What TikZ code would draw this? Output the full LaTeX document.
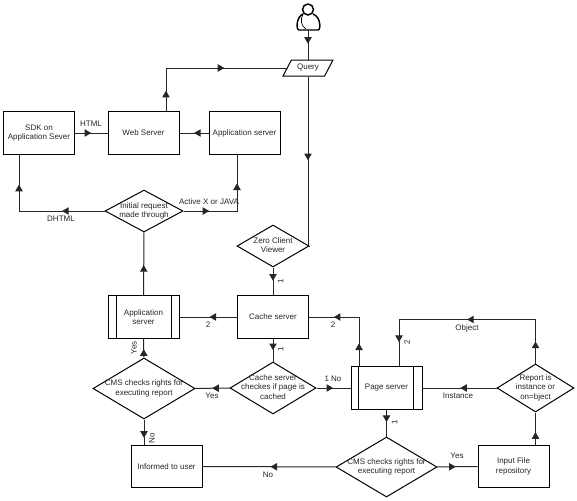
\documentclass[tikz,border=0pt]{standalone}
\usepackage{fontspec}
\setmainfont{Liberation Sans}
\usetikzlibrary{
  arrows.meta,
  shapes.geometric,
  decorations.markings
}
\newcommand{\inside}[1]{\smash{\makebox[0pt]{\raisebox{-1.5pt}{\begin{tabular}{@{}c@{}}#1\end{tabular}}}}}

\begin{document}
\begin{tikzpicture}[
  x=0.75pt,
  y=-0.75pt,
  font=\fontsize{6}{7}\selectfont,
  text=black!85,
  line width=0.75pt,
  block/.style={
    rectangle,
    draw=black,
    inner sep=0pt,
    minimum width=53.25pt,
    minimum height=32pt,
    align=center
  },
  query/.style={
    trapezium,
    trapezium stretches=true,
    trapezium left angle=53,
    trapezium right angle=127,
    draw=black,
    inner sep=0pt,
    minimum width=37.5pt,
    minimum height=12pt
  },
  decision/.style 2 args={
    diamond,
    draw=black,
    inner sep=0pt,
    minimum width=#1*0.75pt,
    minimum height=#2*0.75pt
  },
  link/.style={
    draw=black!85,
    postaction={decorate, decoration={markings,
      mark=at position #1 with {\arrow{Triangle[length=5pt,width=5.5pt]}}}}
  },
  tag/.style={inner sep=0pt},
  turned/.style={inner sep=0pt, rotate=90}
]
\useasboundingbox (0,0) rectangle (577,500);

% User
\coordinate (user) at (308,30);
\draw[line width=1.1pt] (308,9.5) circle[x radius=5.5, y radius=5.5];
\draw[line width=1.1pt, rounded corners=3pt] (303,14) .. controls (296,17) and (296,30) .. (303,30) -- (314,30) .. controls (321,30) and (321,17) .. (313,14);
\draw[line width=0.5pt] (303,14) .. controls (300,20) and (301,26) .. (306,29);

% Top row
\node[query] (qry) at (308,68) {Query};
\node[block] (sdk) at (39,133) {SDK on\\Application Sever};
\node[block] (web) at (143.5,133) {Web Server};
\node[block] (app) at (244.5,133) {Application server};

% Middle
\node[decision={78}{42}] (init) at (144,211) {\inside{Initial request\\made through}};
\node[decision={72}{42}] (zero) at (273,246) {\inside{Zero Client\\Viewer}};
\node[block] (appsrv) at (143.5,317) {Application\\server};
\node[block] (cache) at (273,317) {Cache server};
\node[block] (page) at (386.5,388) {Page server};
\node[decision={102}{61}] (cms) at (144,388.5) {\inside{CMS checks rights for\\executing report}};
\node[decision={86}{52}] (check) at (273,388) {\inside{Cache server\\checkes if page is\\cached}};
\node[decision={77}{48}] (kind) at (535.5,388) {\inside{Report is\\instance or\\on=bject}};

% Bottom row
\node[block] (told) at (166.5,466.5) {Informed to user};
\node[decision={101}{60}] (rights) at (386.5,467) {\inside{CMS checks rights for\\executing report}};
\node[block] (input) at (513.5,466.5) {Input File\\repository};

% Process bars
\draw ([xshift=6.75pt]appsrv.north west) -- ([xshift=6.75pt]appsrv.south west);
\draw ([xshift=-6pt]appsrv.north east) -- ([xshift=-6pt]appsrv.south east);
\draw ([xshift=6pt]page.north west) -- ([xshift=6pt]page.south west);
\draw ([xshift=-6.75pt]page.north east) -- ([xshift=-6.75pt]page.south east);

% Connectors
\draw[link=0.47] (user) -- (qry.north -| user);
\draw[link=0.125, link=0.62] (web.north -| 166,0) |- (qry.west);
\draw[link=0.5] (sdk) -- (web);
\draw[link=0.5] (app) -- (web);
\draw[link=0.30, link=0.79] (init.west) -| (sdk.south -| 19,0);
\draw[link=0.235, link=0.74] (init.east) -| (app.south -| 237,0);
\draw[link=0.49] (qry.south) |- (zero.east);
\draw[link=0.48] (zero) -- (cache);
\draw[link=0.48] (appsrv) -- (init);
\draw[link=0.48] (cache) -- (appsrv);
\draw[link=0.23, link=0.75] (page.north -| 359,0) |- (cache.east);
\draw[link=0.5] (cache) -- (check);
\draw[link=0.49] (check) -- (page);
\draw[link=0.51] (check) -- (cms);
\draw[link=0.45] (cms) -- (appsrv);
\draw[link=0.73] (cms) -- (told.north -| cms);
\draw[link=0.46] (page) -- (rights);
\draw[link=0.49] (rights) -- (told);
\draw[link=0.46] (rights) -- (input);
\draw[link=0.39] (input.north -| kind) -- (kind);
\draw[link=0.49] (kind) -- (page);
\draw[link=0.097, link=0.495, link=0.894] (kind.north) -- ++(0,-44) -| (page.north -| 399,0);

% Labels
\node[tag] (lhtml) at (91,124) {HTML};
\node[tag] (ldhtml) at (61,219) {DHTML};
\node[tag] (lactive) at (209,202) {Active X or JAVA};
\node[turned] (lone) at (280.5,281) {1};
\node[tag] (ltwo) at (208,325) {2};
\node[tag] (lthree) at (333,325) {2};
\node[turned] (lfour) at (280.5,349.5) {1};
\node[tag] (lno) at (333,379) {1 No};
\node[tag] (lyes) at (212,396) {Yes};
\node[turned] (lyesup) at (134,348) {Yes};
\node[turned] (lnodown) at (152,438) {No};
\node[tag] (lnoleft) at (268,475) {No};
\node[turned] (lfive) at (394.5,422) {1};
\node[tag] (lyesright) at (457,456) {Yes};
\node[tag] (linst) at (458,396) {Instance};
\node[tag] (lobj) at (467,328) {Object};
\node[turned] (lsix) at (407,342) {2};
\end{tikzpicture}
\end{document}
